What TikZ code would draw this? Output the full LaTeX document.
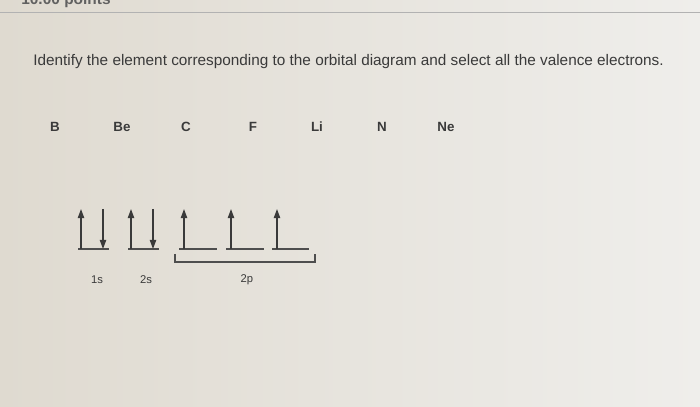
\documentclass[tikz,border=0pt]{standalone}
\usepackage{fontspec}
\setmainfont{Liberation Sans}
\usetikzlibrary{arrows.meta}
\definecolor{paperL}{HTML}{DFDAD0}
\definecolor{paperR}{HTML}{EFEEEB}
\definecolor{ink}{HTML}{3A3A3A}
\tikzset{
  option/.style={font=\fontsize{9.5}{10}\selectfont\bfseries, text=ink},
  sublabel/.style={font=\fontsize{8}{9}\selectfont, text=ink},
  level/.style={line width=1.1pt, draw=ink!90},
  spin/.style={line width=1pt, draw=ink, -{Triangle[length=6.5pt,width=4.5pt]}}
}
\begin{document}
\begin{tikzpicture}[x=0.025cm, y=-0.025cm]

	% Paper
	\useasboundingbox (0,0) rectangle (700,407);
	\shade[left color=paperL, right color=paperR] (0,0) rectangle (700,407);
	\clip (0,0) rectangle (700,407);

	% Header
	\node[font=\fontsize{11}{12}\selectfont\bfseries, text=ink!80] (points) at (66,1) {10.00 points};
	\draw[gray!60, line width=0.6pt] (0,12) -- (700,12);

	% Question
	\node[anchor=west, inner sep=0pt, font=\fontsize{10.9}{12}\selectfont, text=ink] (question) at (33,62)
		{Identify the element corresponding to the orbital diagram and select all the valence electrons.};

	% Choices
	\foreach \x/\el in {55/B, 122/Be, 186/C, 253/F, 317/Li, 382/N, 446/Ne} {
		\node[option] (opt-\el) at (\x,127) {\el};
	}

	% Levels
	\foreach \a/\b in {78/109, 128/159, 179/217, 226/264, 272/309} {
		\draw[level] (\a,249) -- (\b,249);
	}

	% Spin up
	\foreach \x in {81, 131, 184, 231, 277} {
		\draw[spin] (\x,249) -- (\x,209);
	}
	% Spin down
	\foreach \x in {103, 153} {
		\draw[spin] (\x,209) -- (\x,249);
	}

	% 2p bracket
	\draw[level, line width=0.9pt] (175,254) -- (175,262) -- (315,262) -- (315,254);

	% Labels
	\node[sublabel] (l1s) at (97,280) {1s};
	\node[sublabel] (l2s) at (146,280) {2s};
	\node[sublabel] (l2p) at (247,280) {2p};

\end{tikzpicture}
\end{document}
